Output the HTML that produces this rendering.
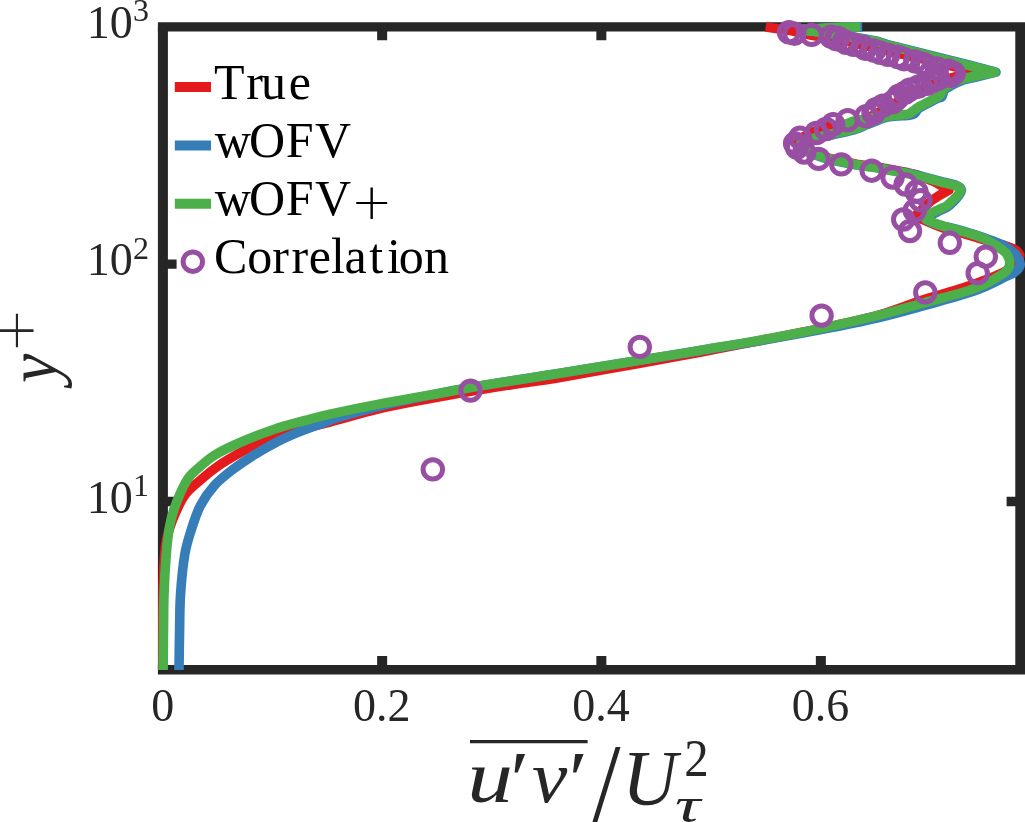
<!DOCTYPE html>
<html lang="en"><head><meta charset="utf-8"><title>Reynolds shear stress profile</title>
<style>html,body{margin:0;padding:0;background:#fff}body{width:1025px;height:822px;overflow:hidden}svg{display:block}text{font-family:"Liberation Serif","DejaVu Serif",serif;fill:#262626}.it{font-style:italic}.lg text{fill:#000}.pl{font-family:"DejaVu Sans Light","DejaVu Sans",sans-serif;font-weight:200}.lg .pl{fill:#000}</style></head><body>
<svg width="1025" height="822" viewBox="0 0 1025 822">
<rect width="1025" height="822" fill="#fff"/>
<g stroke="#262626" fill="none" stroke-linecap="butt">
<path stroke-width="9.4" d="M157.9 26.9H1027.0M157.9 669.7H1027.0"/>
<path stroke-width="10.0" d="M162.9 26.9V669.7M1020.3 26.9V669.7"/>
<path stroke-width="10.0" d="M382.15 669.7V656.1M382.15 26.9V40.2M601.35 669.7V656.1M601.35 26.9V40.2M820.85 669.7V656.1M820.85 26.9V40.2"/>
<path stroke-width="9.4" d="M162.9 264.10H176.6M1020.3 264.10H1006.6M162.9 501.50H176.6M1020.3 501.50H1006.6"/>
</g>
<g fill="none" stroke-width="9.6" stroke-linejoin="round" stroke-linecap="butt">
<path stroke="#e41a1c" d="M162.9 670.0C162.9 662.5 162.8 637.5 162.8 625.0C162.8 612.5 162.8 605.0 163.0 595.0C163.2 585.0 163.3 574.2 163.9 565.0C164.5 555.8 165.1 547.5 166.5 540.0C167.9 532.5 169.5 527.4 172.5 520.0C175.5 512.6 179.8 502.2 184.5 495.5C189.2 488.8 194.8 485.0 200.5 480.0C206.2 475.0 212.0 470.2 219.0 465.4C226.0 460.6 234.3 455.9 242.4 451.4C250.5 446.9 257.8 442.0 267.4 438.4C277.0 434.8 289.6 432.3 300.0 429.6C310.4 426.9 316.9 425.4 330.0 422.0C343.1 418.6 362.5 412.7 378.8 408.9C395.1 405.1 411.4 402.2 427.6 399.1C443.9 396.0 459.2 393.2 476.3 390.3C493.4 387.4 516.0 384.1 530.0 382.0C544.0 379.9 541.7 380.6 560.0 377.5C578.3 374.4 616.7 367.4 640.0 363.2C663.3 359.0 680.0 356.0 700.0 352.2C720.0 348.4 739.8 344.6 760.0 340.6C780.2 336.6 801.5 332.5 821.0 328.4C840.5 324.2 859.8 320.5 877.0 315.7C894.2 310.9 909.5 304.2 924.0 299.5C938.5 294.8 950.8 292.1 964.0 287.6C977.2 283.1 994.6 276.4 1003.0 272.5C1011.4 268.6 1011.7 267.2 1014.5 264.5C1017.3 261.8 1019.5 258.4 1019.7 256.0C1020.0 253.6 1017.7 251.8 1016.0 250.3C1014.3 248.9 1012.2 248.3 1009.5 247.3C1006.8 246.3 1004.3 245.5 1000.0 244.2C995.7 242.9 989.5 241.4 983.5 239.6C977.5 237.8 970.9 235.6 964.0 233.6C957.1 231.6 949.2 230.0 942.2 227.6C935.2 225.2 926.5 221.2 922.0 219.4C917.5 217.6 916.2 217.0 915.0 216.5L917.0 214.0L924.0 207.5L931.2 200.8L940.0 195.0L949.0 190.0L935.0 182.0L917.2 175.0L908.3 172.8L880.0 167.5L856.6 164.2L830.0 158.5L812.0 152.5L801.0 147.5L797.0 143.0L800.0 138.5L812.0 132.5L826.0 126.5L850.0 124.0L868.0 118.0L885.0 109.0L908.0 96.0L928.0 86.0L940.0 81.0L956.0 76.5L978.0 72.0L956.0 67.0L928.0 60.0L884.0 50.0L846.0 41.0L811.7 35.2L791.7 30.8L765.7 26.9"/>
<path stroke="#377eb8" d="M179.0 670.0C179.1 663.3 179.3 642.5 179.6 630.0C179.8 617.5 179.7 607.5 180.5 595.0C181.3 582.5 182.9 565.8 184.7 555.0C186.5 544.2 188.6 538.2 191.2 530.0C193.8 521.8 196.4 513.4 200.2 506.0C204.0 498.6 208.7 491.8 214.2 485.7C219.7 479.6 226.4 474.4 233.1 469.3C239.8 464.2 246.8 459.6 254.1 455.0C261.4 450.4 269.9 445.6 276.8 442.0C283.7 438.4 288.2 436.4 295.5 433.4C302.8 430.4 313.1 426.7 320.5 424.0C327.9 421.3 330.3 419.9 340.0 417.0C349.7 414.1 364.2 409.9 378.8 406.3C393.4 402.7 411.4 398.9 427.6 395.6C443.9 392.3 459.2 389.4 476.3 386.5C493.4 383.6 516.0 380.1 530.0 377.9C544.0 375.7 541.7 376.2 560.0 373.3C578.3 370.4 616.7 364.1 640.0 360.3C663.3 356.5 680.0 353.9 700.0 350.6C720.0 347.3 739.8 344.2 760.0 340.7C780.2 337.2 801.5 333.4 821.0 329.6C840.5 325.8 859.8 322.0 877.0 318.0C894.2 314.0 909.5 309.6 924.0 305.6C938.5 301.6 954.1 297.2 964.0 294.1C973.9 291.0 977.0 289.9 983.5 287.2C990.0 284.5 997.7 280.6 1003.0 278.0C1008.3 275.4 1012.6 273.8 1015.5 271.5C1018.4 269.2 1020.3 266.9 1020.2 264.0C1020.1 261.1 1017.9 257.2 1015.0 254.0C1012.1 250.8 1008.2 247.7 1003.0 245.0C997.8 242.3 990.0 239.9 983.5 237.6C977.0 235.3 970.9 233.4 964.0 231.4C957.1 229.4 947.3 227.1 942.0 225.6C936.7 224.1 934.6 223.5 932.0 222.6C929.4 221.7 927.4 220.4 926.5 220.0C927.5 219.1 930.2 216.1 932.5 214.5C934.8 212.9 937.5 211.9 940.0 210.6C942.5 209.3 945.6 208.2 947.8 206.8C950.0 205.4 951.3 203.7 953.0 202.0C954.7 200.3 956.6 198.6 958.0 196.6C959.4 194.6 961.8 191.7 961.4 189.8C961.0 187.9 959.1 186.4 955.5 185.0C951.9 183.6 946.4 182.7 940.0 181.1C933.6 179.5 922.5 176.5 917.2 175.2C911.9 173.9 914.5 174.4 908.3 173.2C902.1 172.0 888.6 169.4 880.0 168.0C871.4 166.6 864.9 166.3 856.6 164.9C848.3 163.5 837.4 161.4 830.0 159.6C822.6 157.8 816.4 155.5 812.0 153.8C807.6 152.1 805.2 151.0 803.5 149.5C801.8 148.0 801.5 146.2 801.5 145.0C801.5 143.8 801.2 143.0 803.5 142.0C805.8 141.0 810.0 140.1 815.0 138.8C820.0 137.6 827.4 135.9 833.5 134.5C839.6 133.1 846.0 132.2 851.7 130.5C857.5 128.8 862.5 126.4 868.0 124.3C873.5 122.2 879.5 119.2 884.5 117.8C889.5 116.4 894.2 116.4 898.0 116.0C901.8 115.6 904.2 115.9 907.0 115.5C909.8 115.1 912.6 114.8 914.5 113.6C916.4 112.4 915.9 110.5 918.5 108.6C921.1 106.7 926.8 104.0 930.0 102.2C933.2 100.4 936.0 98.9 938.0 98.0C940.0 97.1 940.7 98.3 941.8 97.0C942.9 95.7 943.0 91.9 944.5 90.0C946.0 88.1 948.1 87.4 951.0 85.8C953.9 84.2 957.6 82.0 961.8 80.6C966.0 79.2 973.6 77.8 976.0 77.2L996.0 72.2L968.8 65.0L930.7 55.5L905.0 48.8L886.8 44.3L877.6 41.2L846.0 35.5L812.0 31.0L803.0 30.6L804.0 29.3L843.0 27.0L862.2 26.9"/>
<path stroke="#4daf4a" d="M163.1 670.0C163.2 663.3 163.3 642.5 163.5 630.0C163.7 617.5 163.6 607.5 164.0 595.0C164.4 582.5 165.3 566.2 166.2 555.0C167.1 543.8 168.0 535.4 169.4 527.5C170.8 519.6 171.7 515.4 174.6 507.5C177.5 499.6 182.6 487.1 186.9 480.2C191.2 473.3 195.5 470.7 200.3 466.4C205.1 462.1 208.9 458.4 215.9 454.3C222.9 450.2 232.8 445.6 242.4 441.5C252.0 437.4 263.3 433.0 273.7 429.5C284.1 426.0 295.5 423.1 304.9 420.5C314.3 417.9 317.7 416.8 330.0 414.1C342.3 411.4 362.5 407.2 378.8 404.1C395.1 401.0 411.4 398.3 427.6 395.4C443.9 392.5 459.2 389.4 476.3 386.5C493.4 383.6 516.0 380.1 530.0 377.9C544.0 375.7 541.7 376.2 560.0 373.3C578.3 370.4 616.7 364.0 640.0 360.2C663.3 356.4 680.0 353.8 700.0 350.4C720.0 347.0 739.8 343.8 760.0 340.1C780.2 336.4 801.5 332.5 821.0 328.4C840.5 324.3 859.8 320.0 877.0 315.7C894.2 311.4 909.5 306.8 924.0 302.8C938.5 298.9 954.1 295.0 964.0 292.0C973.9 289.0 977.0 287.8 983.5 284.8C990.0 281.8 998.9 276.5 1003.0 273.8C1007.1 271.1 1007.1 270.3 1008.2 268.5C1009.3 266.7 1009.8 265.0 1009.8 263.0C1009.8 261.0 1009.1 258.6 1008.0 256.5C1006.9 254.4 1007.1 253.4 1003.0 250.4C998.9 247.4 990.0 241.5 983.5 238.4C977.0 235.3 970.9 234.1 964.0 232.0C957.1 229.9 947.3 227.4 942.0 225.8C936.7 224.2 934.7 223.4 932.0 222.3C929.3 221.2 926.8 219.8 925.8 219.3C926.8 218.3 929.3 214.8 931.5 213.2C933.7 211.5 936.5 210.7 939.0 209.4C941.5 208.2 944.6 207.1 946.8 205.7C949.0 204.3 950.3 202.6 952.0 201.0C953.7 199.4 955.5 197.9 957.0 196.0C958.5 194.1 961.1 191.5 960.8 189.8C960.5 188.1 958.5 186.9 955.0 185.6C951.5 184.3 946.3 183.4 940.0 181.8C933.7 180.2 922.5 177.1 917.2 175.8C911.9 174.5 914.5 175.0 908.3 173.8C902.1 172.6 888.6 170.0 880.0 168.5C871.4 167.0 864.9 166.3 856.6 164.7C848.3 163.1 837.4 160.9 830.0 159.0C822.6 157.1 816.5 154.8 812.0 153.0C807.5 151.2 804.9 149.8 803.0 148.5C801.1 147.2 800.5 146.2 800.5 145.0C800.5 143.8 800.6 142.7 803.0 141.5C805.4 140.3 809.9 139.3 815.0 138.0C820.1 136.7 827.4 134.9 833.5 133.5C839.6 132.1 846.0 131.4 851.7 129.7C857.5 128.0 862.5 125.4 868.0 123.3C873.5 121.2 879.5 118.2 884.5 116.8C889.5 115.4 894.1 115.5 898.0 115.0C901.9 114.5 905.5 114.7 908.0 114.0C910.5 113.3 911.3 112.1 913.0 111.0C914.7 109.9 915.2 109.1 918.0 107.4C920.8 105.7 926.4 103.0 930.0 101.0C933.6 99.0 937.2 97.6 939.5 95.5C941.8 93.4 942.2 90.3 944.0 88.5C945.8 86.7 947.1 86.0 950.0 84.5C952.9 83.0 957.0 80.9 961.2 79.5C965.4 78.1 972.7 76.6 975.0 76.0L995.0 72.2L968.8 65.7L930.7 56.2L905.0 49.5L886.8 45.0L877.6 41.8L846.0 36.0L812.0 31.3L802.0 30.6L803.0 29.2L843.0 27.0L860.4 26.9M838.0 128.5C840.3 127.3 847.3 123.2 852.0 121.6C856.7 120.0 860.3 120.0 866.0 118.9C871.7 117.8 882.7 115.5 886.0 114.8"/>
</g>
<g fill="none" stroke="#984ea3" stroke-width="5">
<circle cx="432.8" cy="469.4" r="9.7"/>
<circle cx="470.5" cy="390.6" r="9.7"/>
<circle cx="639.8" cy="346.9" r="9.7"/>
<circle cx="821.6" cy="315.6" r="9.7"/>
<circle cx="925.3" cy="292.4" r="9.7"/>
<circle cx="977.7" cy="273.2" r="9.7"/>
<circle cx="985.8" cy="256.7" r="9.7"/>
<circle cx="949.8" cy="242.8" r="9.7"/>
<circle cx="910.0" cy="231.0" r="9.7"/>
<circle cx="903.2" cy="219.5" r="9.7"/>
<circle cx="914.7" cy="210.6" r="9.7"/>
<circle cx="920.5" cy="200.3" r="9.7"/>
<circle cx="916.5" cy="191.8" r="9.7"/>
<circle cx="905.6" cy="184.5" r="9.7"/>
<circle cx="892.6" cy="177.5" r="9.7"/>
<circle cx="871.7" cy="170.7" r="9.7"/>
<circle cx="841.3" cy="164.4" r="9.7"/>
<circle cx="818.6" cy="158.9" r="9.7"/>
<circle cx="804.3" cy="152.5" r="9.7"/>
<circle cx="797.0" cy="147.6" r="9.7"/>
<circle cx="795.1" cy="143.4" r="9.7"/>
<circle cx="800.0" cy="137.8" r="9.7"/>
<circle cx="816.3" cy="133.0" r="9.7"/>
<circle cx="826.0" cy="129.0" r="9.7"/>
<circle cx="833.2" cy="124.2" r="9.7"/>
<circle cx="847.7" cy="120.2" r="9.7"/>
<circle cx="866.2" cy="116.2" r="9.7"/>
<circle cx="873.5" cy="113.2" r="9.7"/>
<circle cx="876.0" cy="109.1" r="9.7"/>
<circle cx="883.0" cy="105.6" r="9.7"/>
<circle cx="892.8" cy="102.2" r="9.7"/>
<circle cx="896.5" cy="98.9" r="9.7"/>
<circle cx="898.9" cy="95.7" r="9.7"/>
<circle cx="905.2" cy="92.6" r="9.7"/>
<circle cx="909.7" cy="89.6" r="9.7"/>
<circle cx="918.3" cy="86.7" r="9.7"/>
<circle cx="926.9" cy="83.9" r="9.7"/>
<circle cx="932.1" cy="81.1" r="9.7"/>
<circle cx="938.1" cy="78.5" r="9.7"/>
<circle cx="950.4" cy="75.8" r="9.7"/>
<circle cx="953.7" cy="73.3" r="9.7"/>
<circle cx="948.6" cy="70.8" r="9.7"/>
<circle cx="936.9" cy="68.4" r="9.7"/>
<circle cx="927.0" cy="66.0" r="9.7"/>
<circle cx="922.4" cy="63.7" r="9.7"/>
<circle cx="915.2" cy="61.4" r="9.7"/>
<circle cx="904.0" cy="59.2" r="9.7"/>
<circle cx="898.1" cy="57.0" r="9.7"/>
<circle cx="888.1" cy="54.9" r="9.7"/>
<circle cx="880.4" cy="52.8" r="9.7"/>
<circle cx="874.1" cy="50.7" r="9.7"/>
<circle cx="865.3" cy="48.7" r="9.7"/>
<circle cx="862.8" cy="46.8" r="9.7"/>
<circle cx="853.7" cy="44.8" r="9.7"/>
<circle cx="846.2" cy="42.9" r="9.7"/>
<circle cx="844.2" cy="41.1" r="9.7"/>
<circle cx="836.3" cy="39.2" r="9.7"/>
<circle cx="838.2" cy="38.0" r="9.7"/>
<circle cx="831.1" cy="36.6" r="9.7"/>
<circle cx="811.6" cy="34.9" r="9.7"/>
<circle cx="794.4" cy="33.7" r="9.7"/>
<circle cx="789.0" cy="32.3" r="9.7"/>
</g>
<g fill="none" stroke-width="10" stroke-linecap="butt">
<path stroke="#e41a1c" d="M174.8 87.1H211"/>
<path stroke="#377eb8" d="M174.8 145.5H211"/>
<path stroke="#4daf4a" d="M174.8 203.7H211"/>
</g>
<circle cx="192.8" cy="261.7" r="9.7" fill="none" stroke="#984ea3" stroke-width="5"/>
<g font-size="50px" class="lg">
<text x="214 246.3 261.1 288.7" y="98.8">True</text>
<text x="214.8 249 285.8 315.1" y="157.2">wOFV</text>
<text x="214.8 249 285.8 315.1" y="215.3">wOFV<tspan class="pl" x="350.9" y="219" font-size="49.4px">+</tspan></text>
<text x="214.1 247.3 272.2 291.4 308.8 331 344.5 369.3 387.1 398.8 424.1" y="273.2">Correlation</text>
</g>
<g font-size="46px">
<text x="162.8" y="720.8" text-anchor="middle">0</text>
<text x="381.8" y="720.8" text-anchor="middle">0.2</text>
<text x="601.1" y="720.8" text-anchor="middle">0.4</text>
<text x="820.6" y="720.8" text-anchor="middle">0.6</text>
<text x="86.8" y="38.0">10<tspan dy="-16.6" dx="0.2" font-size="32px">3</tspan></text>
<text x="86.8" y="275.2">10<tspan dy="-16.6" dx="0.2" font-size="32px">2</tspan></text>
<text x="86.8" y="512.6">10<tspan dy="-16.6" dx="0.2" font-size="32px">1</tspan></text>
</g>
<g class="it">
<text transform="translate(467.2 802) scale(1.22 1)" font-size="75px">u</text>
<text transform="translate(532 802) scale(1.06 1)" font-size="75px">v</text>
<text transform="translate(622.2 803.6) scale(0.976 1)" font-size="78px">U</text>
<text transform="translate(674.9 822) scale(1.39 1)" font-size="51px">τ</text>
<text transform="translate(57.1 383.1) rotate(-90) scale(0.915 1)" font-size="72px">y</text>
</g>
<text transform="translate(510.2 804.7) scale(1.125 1)" font-size="77.9px">′</text>
<text transform="translate(568.7 804.7) scale(1.125 1)" font-size="77.9px">′</text>
<text transform="translate(684.3 776) scale(0.93 1)" font-size="52.6px">2</text>
<text class="pl" x="590" y="816.3" font-size="95px">/</text>
<path d="M470 741.6H587.6" stroke="#262626" stroke-width="3.3" fill="none"/>
<text class="pl" transform="translate(34.35 353.1) rotate(-90)" font-size="53.6px">+</text>
</svg></body></html>
